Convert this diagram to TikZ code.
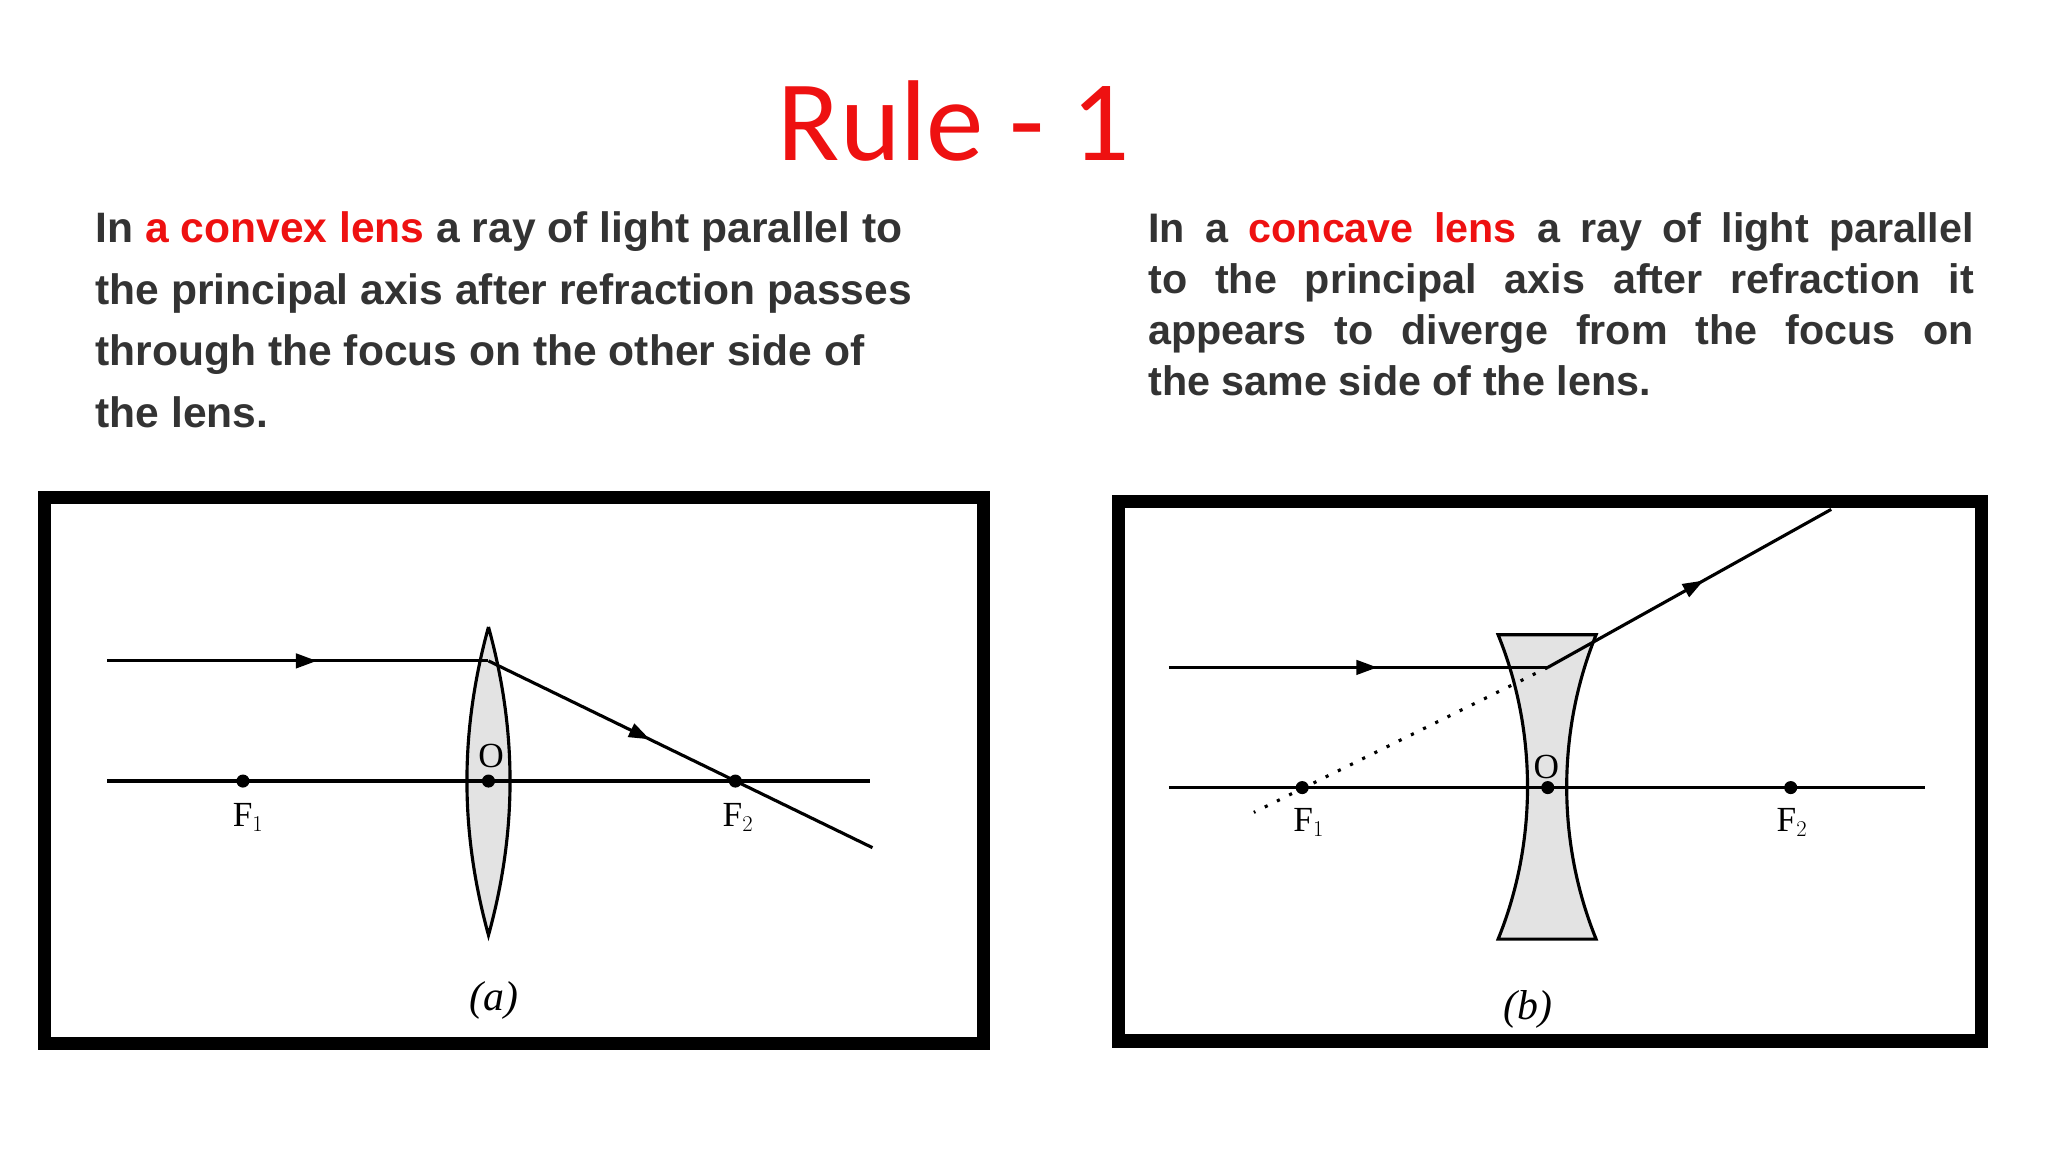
\documentclass[tikz,border=0pt]{standalone}
\usepackage{fontspec}
\setmainfont{Liberation Sans}
\newfontfamily\titlefont{Carlito}
\newfontfamily\lblfont{Liberation Serif}
\usetikzlibrary{decorations.markings,arrows.meta}
\definecolor{txt}{HTML}{333333}
\definecolor{rred}{HTML}{EE1111}
\tikzset{
 body/.style={anchor=base west,inner sep=0,font=\fontsize{31.6}{36}\bfseries\selectfont,text=txt},
 bodyl/.style={body,font=\fontsize{32.6}{38}\bfseries\selectfont},
 frame/.style={line width=10pt},
 ray/.style={line width=2.4pt},
 axisl/.style={line width=2.4pt},
 lbl/.style={font=\lblfont\fontsize{27}{30}\selectfont},
 dot/.style={circle,fill=black,inner sep=0,minimum size=10pt},
 midarrow/.style={postaction={decorate},decoration={markings,mark=at position #1 with {\arrow{Triangle[length=16pt,width=11pt]}}}},
}
\begin{document}
\begin{tikzpicture}[x=1pt,y=-1pt]
\useasboundingbox (0,0) rectangle (1568,882);
\node[font=\titlefont\fontsize{88}{96}\selectfont,text=rred] (title) at (730,93) {Rule - 1};
% left text
\node[bodyl] (l1) at (73,186) {In \textcolor{rred}{a convex lens} a ray of light parallel to};
\node[bodyl] (l2) at (73,233) {the principal axis after refraction passes};
\node[bodyl] (l3) at (73,280) {through the focus on the other side of};
\node[bodyl] (l4) at (73,327) {the lens.};
% right text
\node[body] (r1) at (879,186) {\makebox[632pt][s]{In a \textcolor{rred}{concave lens} a ray of light parallel}};
\node[body] (r2) at (879,225) {\makebox[632pt][s]{to the principal axis after refraction it}};
\node[body] (r3) at (879,264) {\makebox[632pt][s]{appears to diverge from the focus on}};
\node[body] (r4) at (879,303) {the same side of the lens.};
% frames
\draw[frame] (34,381) rectangle (753,799);
\draw[frame] (856,384) rectangle (1517,797);
% diagram a
\draw[fill=gray!22,line width=2.4pt] (374,480) .. controls (396,560) and (396,636) .. (374,716) .. controls (352,636) and (352,560) .. (374,480);
\coordinate (aS) at (82,506);
\coordinate (aL) at (374,506);
\coordinate (aE) at (668,649);
\draw[axisl] (82,598) -- (666,598);
\node[dot] (F1a) at (186,598) {};
\node[dot] (Oa) at (374,598) {};
\node[dot] (F2a) at (563,598) {};
\draw[ray,midarrow=0.55] (aS) -- (aL);
\draw[ray,midarrow=0.42] (aL) -- (aE);
\node[lbl] (F1al) at (190,626) {F$_{\scriptstyle 1}$};
\node[lbl] (Oal) at (376,579) {O};
\node[lbl] (F2al) at (565,626) {F$_{\scriptstyle 2}$};
\node[lbl,font=\lblfont\itshape\fontsize{32}{36}\selectfont] (capa) at (378,766) {(a)};
% diagram b
\draw[fill=gray!22,line width=2.4pt] (1147,486) -- (1222,486) .. controls (1192,560) and (1192,645) .. (1222,719) -- (1147,719) .. controls (1177,645) and (1177,560) .. (1147,486) -- cycle;
\coordinate (bS) at (895,511);
\coordinate (bL) at (1185,511);
\coordinate (bE) at (1402,390);
\coordinate (bD) at (960,622);
\draw[axisl] (895,603) -- (1474,603);
\node[dot] (F1b) at (997,603) {};
\node[dot] (Ob) at (1185,603) {};
\node[dot] (F2b) at (1371,603) {};
\draw[ray,midarrow=0.55] (bS) -- (bL);
\draw[ray,midarrow=0.55] (bL) -- (bE);
\draw[line width=2.4pt,dash pattern=on 2.4pt off 8pt] (bL) -- (bD);
\node[lbl] (F1bl) at (1002,630) {F$_{\scriptstyle 1}$};
\node[lbl] (Obl) at (1184,587) {O};
\node[lbl] (F2bl) at (1372,630) {F$_{\scriptstyle 2}$};
\node[lbl,font=\lblfont\itshape\fontsize{32}{36}\selectfont] (capb) at (1170,773) {(b)};
\end{tikzpicture}
\end{document}
